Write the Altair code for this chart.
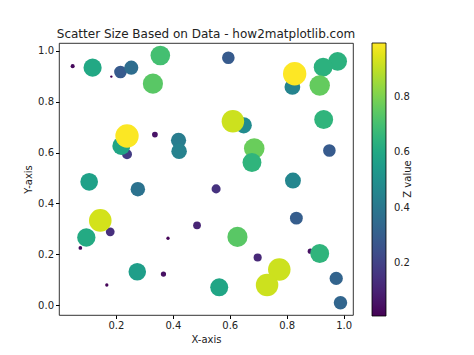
import altair as alt
import pandas as pd

# Point data (x, y, z) — drawn in this order
x_vals = [0.048, 0.184, 0.075, 0.383, 0.168, 0.883, 0.367, 0.337, 0.485, 0.698,
          0.180, 0.552, 0.239, 0.216, 0.595, 0.950, 0.834, 0.974, 0.989, 0.254,
          0.277, 0.420, 0.422, 0.820, 0.822, 0.649, 0.275, 0.106, 0.219, 0.563,
          0.096, 0.118, 0.979, 0.928, 0.930, 0.916, 0.686, 0.678, 0.356, 0.330,
          0.627, 0.916, 0.774, 0.731, 0.611, 0.145, 0.239, 0.828]
y_vals = [0.940, 0.899, 0.225, 0.263, 0.079, 0.212, 0.122, 0.671, 0.314, 0.187,
          0.288, 0.457, 0.593, 0.917, 0.973, 0.608, 0.342, 0.105, 0.009, 0.934,
          0.456, 0.648, 0.605, 0.858, 0.490, 0.707, 0.131, 0.485, 0.626, 0.070,
          0.266, 0.934, 0.959, 0.936, 0.730, 0.203, 0.616, 0.561, 0.982, 0.871,
          0.268, 0.864, 0.140, 0.079, 0.723, 0.333, 0.665, 0.910]
z_vals = [0.03, 0.01, 0.025, 0.02, 0.02, 0.05, 0.05, 0.06, 0.11, 0.12,
          0.14, 0.15, 0.18, 0.29, 0.29, 0.29, 0.30, 0.32, 0.33, 0.36,
          0.38, 0.42, 0.44, 0.45, 0.46, 0.48, 0.56, 0.57, 0.59, 0.59,
          0.61, 0.60, 0.64, 0.64, 0.65, 0.65, 0.77, 0.65, 0.70, 0.74,
          0.74, 0.76, 0.92, 0.92, 0.92, 0.93, 0.99, 0.994]

x_ticks = [0.2, 0.4, 0.6, 0.8, 1.0]
y_ticks = [0.0, 0.2, 0.4, 0.6, 0.8, 1.0]
cbar_ticks = [0.2, 0.4, 0.6, 0.8]

df = pd.DataFrame({"x": x_vals, "y": y_vals, "z": z_vals, "order": list(range(len(x_vals)))})
zmin, zmax = min(z_vals), max(z_vals)

points = alt.Chart(df).mark_circle(opacity=1).encode(
    x=alt.X("x:Q",
            scale=alt.Scale(domain=[0.0, 1.033], nice=False, zero=False),
            axis=alt.Axis(values=x_ticks, format=".1f", title="X-axis")),
    y=alt.Y("y:Q",
            scale=alt.Scale(domain=[-0.039, 1.031], nice=False, zero=False),
            axis=alt.Axis(values=y_ticks, format=".1f", title="Y-axis")),
    color=alt.Color("z:Q",
                    scale=alt.Scale(scheme="viridis", domain=[zmin, zmax]),
                    legend=alt.Legend(orient="none", legendX=313, legendY=0,
                                      direction="vertical", title=None,
                                      values=cbar_ticks, format=".1f",
                                      gradientLength=273, gradientThickness=14,
                                      gradientStrokeColor="black",
                                      gradientStrokeWidth=0.8,
                                      labelFontSize=10, labelOffset=8,
                                      labelColor="#222", labelFont="DejaVu Sans")),
    size=alt.Size("z:Q", scale=alt.Scale(domain=[0, 1], range=[0, 550]), legend=None),
    order=alt.Order("order:Q"),
)

cbar_title = alt.Chart(pd.DataFrame({"t": ["Z value"]})).mark_text(
    angle=270, fontSize=10, font="DejaVu Sans", color="#222",
    align="center", baseline="middle"
).encode(x=alt.value(349), y=alt.value(136), text="t:N")

chart = alt.layer(points, cbar_title).properties(
    width=294, height=272,
    title=alt.TitleParams("Scatter Size Based on Data - how2matplotlib.com",
                          fontSize=12, font="DejaVu Sans", fontWeight="normal",
                          color="#222", offset=2),
    padding={"left": 51, "top": 35, "right": 113, "bottom": 32},
    autosize=alt.AutoSizeParams(type="none"),
).configure_view(
    stroke="black", strokeWidth=0.8
).configure_axis(
    domain=False, grid=False, tickColor="black", tickSize=3.5,
    labelFontSize=10, labelFont="DejaVu Sans", labelColor="#222", labelPadding=2,
    titleFontSize=10, titleFont="DejaVu Sans", titleColor="#222",
    titleFontWeight="normal", titlePadding=4
)

chart.save("out.html", embed_options={"renderer": "svg", "actions": False})
